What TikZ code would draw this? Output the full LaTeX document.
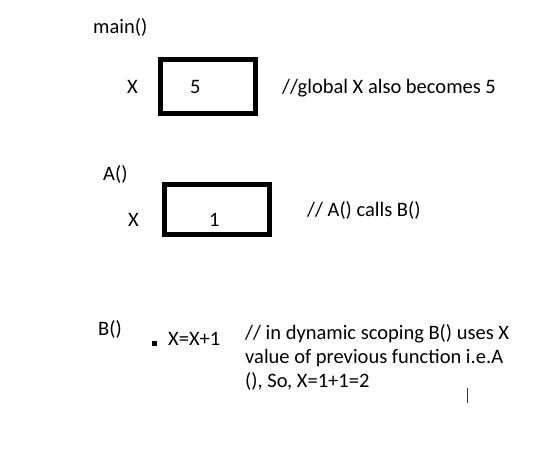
\documentclass[tikz,border=0pt]{standalone}
\usepackage{fontspec}
\setmainfont{Carlito}
\usetikzlibrary{positioning}

\begin{document}
\begin{tikzpicture}[x=1pt,y=-1pt,
	txt/.style={inner sep=0pt,anchor=base west,font=\fontsize{20.5}{24}\selectfont},
	var/.style={draw,line width=5pt,inner sep=0pt}]
\useasboundingbox (0,0) rectangle (546,448);
% main()
\node[txt] (main) at (93,33) {main()};
\node[txt] (X_main) at (127,93) {X};
\node[var,minimum width=95pt,minimum height=54pt] (box_main) at (208,86.5) {};
\node[txt] (val_main) at (190,93) {5};
\node[txt] (c_main) at (282,93) {//global X also becomes 5};
% A()
\node[txt] (A) at (103,180) {A()};
\node[txt] (X_A) at (128,226) {X};
\node[var,minimum width=105pt,minimum height=50pt] (box_A) at (217,209.5) {};
\node[txt] (val_A) at (209,226) {1};
\node[txt] (c_A) at (307,216) {// A() calls B()};
% B()
\node[txt] (B) at (98,335) {B()};
\node[fill,inner sep=0pt,minimum size=5pt] (dot) at (154.5,343.5) {};
\node[txt] (inc) at (168,345) {X=X+1};
\node[txt,align=left] (c_B) at (245,387) {// in dynamic scoping B() uses X\\
	value of previous function i.e.A\\
	(), So, X=1+1=2};
% cursor
\draw[line width=1.3pt,black!80] (467.5,388) -- (467.5,403);
\end{tikzpicture}
\end{document}
